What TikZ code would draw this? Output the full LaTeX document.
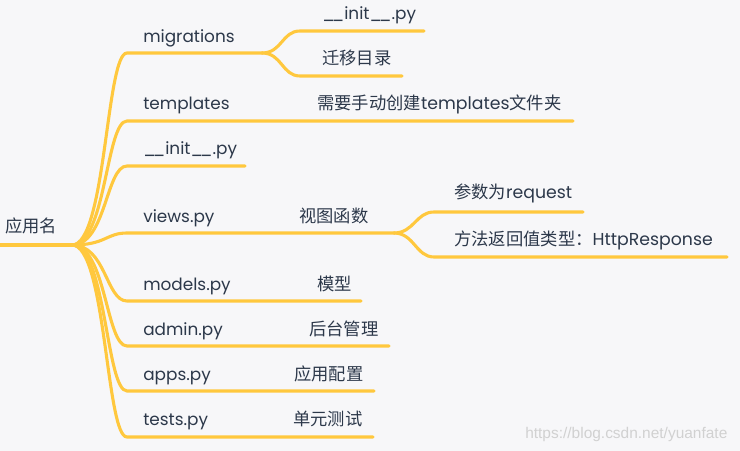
\documentclass[tikz,border=0pt]{standalone}
\usepackage{fontspec}
\setmainfont{Poppins}
\newfontfamily\cjk{Noto Sans CJK SC}
\newfontfamily\wmark{Liberation Sans}
\usetikzlibrary{positioning}

\definecolor{branch}{RGB}{255,200,62}
\definecolor{ink}{RGB}{44,56,74}
\definecolor{paper}{RGB}{247,247,249}
\newcommand{\dunder}{\_\kern-.16em\_}

\begin{document}
\begin{tikzpicture}[
  x=0.025cm, y=-0.025cm,
  txt/.style={text=ink, anchor=base west, inner sep=0pt, font=\fontsize{12}{14}\selectfont},
  zh/.style={txt, font=\cjk\fontsize{12.3}{14}\selectfont},
  limb/.style={draw=branch, line width=2.2pt, line cap=round},
  twig/.style={to path={.. controls +(34,0) and +(-21,0) .. (\tikztotarget)}},
  sprig/.style={to path={.. controls +(20,0) and +(-18,0) .. (\tikztotarget)}}
]
\fill[paper] (0,0) rectangle (740,451);
\useasboundingbox (0,0) rectangle (740,451);

% root
\node[zh] (app) at (5,233) {应用名};
\coordinate (rootL) at (0,245);
\coordinate (root) at (72,245);
\draw[limb] (rootL) -- (root);

% main branches
\node[txt] (mig) at (143,43) {migrations};
\node[txt] (tpl) at (143,110) {templates};
\node[txt] (ini) at (143,155) {\dunder init\dunder.py};
\node[txt] (vie) at (143,223) {views.py};
\node[txt] (mod) at (143,290) {models.py};
\node[txt] (adm) at (143,335) {admin.py};
\node[txt] (aps) at (143,380) {apps.py};
\node[txt] (tst) at (143,425) {tests.py};

\coordinate (mig-a) at (127,53);  \coordinate (mig-b) at (262,53);
\coordinate (tpl-a) at (127,121); \coordinate (tpl-b) at (573,121);
\coordinate (ini-a) at (127,166); \coordinate (ini-b) at (245,166);
\coordinate (vie-a) at (127,233); \coordinate (vie-b) at (394,233);
\coordinate (mod-a) at (127,301); \coordinate (mod-b) at (361,301);
\coordinate (adm-a) at (127,346); \coordinate (adm-b) at (389,346);
\coordinate (aps-a) at (127,391); \coordinate (aps-b) at (374,391);
\coordinate (tst-a) at (127,437); \coordinate (tst-b) at (373,437);

\draw[limb] (root) to[twig] (mig-a) -- (mig-b);
\draw[limb] (root) to[twig] (tpl-a) -- (tpl-b);
\draw[limb] (root) to[twig] (ini-a) -- (ini-b);
\draw[limb] (root) to[twig] (vie-a) -- (vie-b);
\draw[limb] (root) to[twig] (mod-a) -- (mod-b);
\draw[limb] (root) to[twig] (adm-a) -- (adm-b);
\draw[limb] (root) to[twig] (aps-a) -- (aps-b);
\draw[limb] (root) to[twig] (tst-a) -- (tst-b);

% notes on the branches
\node[zh] (tplnote) at (317,110) {需要手动创建{\fontspec{Poppins}templates}文件夹};
\node[zh] (vienote) at (299,223) {视图函数};
\node[zh] (modnote) at (317,290) {模型};
\node[zh] (admnote) at (309,335) {后台管理};
\node[zh] (apsnote) at (294,380) {应用配置};
\node[zh] (tstnote) at (293,425) {单元测试};

% sub branches
\node[txt] (migini) at (322,20) {\dunder init\dunder.py};
\node[zh] (migdir) at (322,65) {迁移目录};
\node[zh] (viereq) at (454,199) {参数为{\fontspec{Poppins}request}};
\node[zh] (vieret) at (454,245) {方法返回值类型：{\fontspec{Poppins}HttpResponse}};

\coordinate (migini-a) at (300,31);  \coordinate (migini-b) at (424,31);
\coordinate (migdir-a) at (300,76);  \coordinate (migdir-b) at (402,76);
\coordinate (viereq-a) at (434,212); \coordinate (viereq-b) at (583,212);
\coordinate (vieret-a) at (434,257); \coordinate (vieret-b) at (727,257);

\draw[limb] (mig-b) to[sprig] (migini-a) -- (migini-b);
\draw[limb] (mig-b) to[sprig] (migdir-a) -- (migdir-b);
\draw[limb] (vie-b) to[sprig] (viereq-a) -- (viereq-b);
\draw[limb] (vie-b) to[sprig] (vieret-a) -- (vieret-b);

% watermark
\node[anchor=base west, inner sep=0pt, text=black!18, font=\wmark\fontsize{11}{13}\selectfont] (url) at (525,438) {https://blog.csdn.net/yuanfate};
\end{tikzpicture}
\end{document}
